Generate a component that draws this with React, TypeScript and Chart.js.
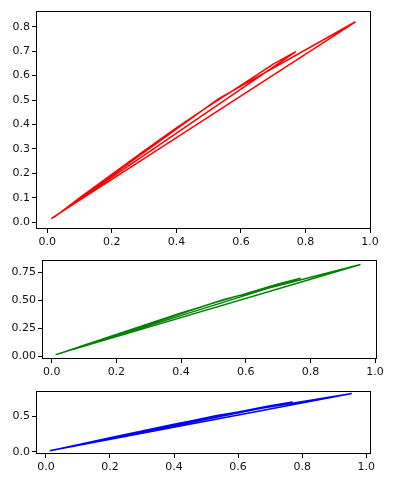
import React, { useEffect, useRef } from "react";
import { Chart, registerables } from "chart.js";

Chart.register(...registerables);

// Same series shown in each panel (sequence of points, not sorted)
const xValues = [0.012, 0.955, 0.53, 0.02, 0.1, 0.2, 0.3, 0.4, 0.5, 0.6, 0.7, 0.77, 0.015];
const yValues = [0.015, 0.82, 0.505, 0.02, 0.1, 0.196, 0.292, 0.386, 0.475, 0.56, 0.647, 0.698, 0.017];

const xTicks = [0.0, 0.2, 0.4, 0.6, 0.8, 1.0];
const redYTicks = [0.0, 0.1, 0.2, 0.3, 0.4, 0.5, 0.6, 0.7, 0.8];
const greenYTicks = [0.0, 0.25, 0.5, 0.75];
const blueYTicks = [0.0, 0.5];

const framePlugin = {
  id: "frame",
  afterDraw(chart: any) {
    const { ctx, chartArea } = chart;
    ctx.save();
    ctx.strokeStyle = "#000";
    ctx.lineWidth = 1;
    ctx.strokeRect(
      Math.round(chartArea.left) + 0.5,
      Math.round(chartArea.top) + 0.5,
      Math.round(chartArea.right - chartArea.left) - 1,
      Math.round(chartArea.bottom - chartArea.top) - 1
    );
    ctx.restore();
  },
};

type PanelProps = {
  top: number;
  height: number;
  color: string;
  yTicks: number[];
  yDecimals: number;
  xMin: number;
  xMax: number;
  yMin: number;
  yMax: number;
  yAxisWidth: number;
  padTop: number;
  padRight: number;
  padBottom: number;
  xAxisHeight: number;
};

function Panel(p: PanelProps) {
  const ref = useRef<HTMLCanvasElement | null>(null);
  useEffect(() => {
    if (!ref.current) return;
    const font = { family: "DejaVu Sans", size: 11 };
    const chart = new Chart(ref.current, {
      type: "scatter",
      data: {
        datasets: [
          {
            data: xValues.map((x, i) => ({ x, y: yValues[i] })),
            showLine: true,
            borderColor: p.color,
            backgroundColor: p.color,
            borderWidth: 1.5,
            pointRadius: 0,
            tension: 0,
          },
        ],
      },
      options: {
        responsive: false,
        animation: false,
        devicePixelRatio: 1,
        layout: { padding: { top: p.padTop, right: p.padRight, bottom: p.padBottom, left: 0 } },
        plugins: { legend: { display: false }, tooltip: { enabled: false } },
        scales: {
          x: {
            type: "linear",
            min: p.xMin,
            max: p.xMax,
            border: { display: false },
            grid: { drawOnChartArea: false, drawTicks: true, tickLength: 4, color: "#000" },
            ticks: {
              color: "#111",
              font,
              padding: 3,
              maxRotation: 0,
              autoSkip: false,
              callback: (v: any) => Number(v).toFixed(1),
            },
            afterBuildTicks: (s: any) => {
              s.ticks = xTicks.map((v) => ({ value: v }));
            },
            afterFit: (s: any) => {
              s.height = p.xAxisHeight;
            },
          },
          y: {
            type: "linear",
            min: p.yMin,
            max: p.yMax,
            border: { display: false },
            grid: { drawOnChartArea: false, drawTicks: true, tickLength: 4, color: "#000" },
            ticks: {
              color: "#111",
              font,
              padding: 2,
              autoSkip: false,
              callback: (v: any) => Number(v).toFixed(p.yDecimals),
            },
            afterBuildTicks: (s: any) => {
              s.ticks = p.yTicks.map((v) => ({ value: v }));
            },
            afterFit: (s: any) => {
              s.width = p.yAxisWidth;
            },
          },
        },
      },
      plugins: [framePlugin],
    });
    return () => chart.destroy();
  }, []);
  return (
    <canvas
      ref={ref}
      width={393}
      height={p.height}
      style={{ position: "absolute", left: 0, top: p.top, width: 393, height: p.height, display: "block" }}
    />
  );
}

export default function App() {
  return (
    <div style={{ position: "absolute", left: 0, top: 0, width: 393, height: 477, background: "#fff" }}>
      <Panel
        top={0}
        height={250}
        color="#ff0000"
        yTicks={redYTicks}
        yDecimals={1}
        xMin={-0.035}
        xMax={1.003}
        yMin={-0.027}
        yMax={0.864}
        yAxisWidth={36}
        padTop={11}
        padRight={22}
        padBottom={0}
        xAxisHeight={21}
      />
      <Panel
        top={250}
        height={130}
        color="#008000"
        yTicks={greenYTicks}
        yDecimals={2}
        xMin={-0.03}
        xMax={1.006}
        yMin={-0.024}
        yMax={0.86}
        yAxisWidth={42}
        padTop={10}
        padRight={16}
        padBottom={0}
        xAxisHeight={21}
      />
      <Panel
        top={380}
        height={97}
        color="#0000ff"
        yTicks={blueYTicks}
        yDecimals={1}
        xMin={-0.031}
        xMax={1.015}
        yMin={-0.032}
        yMax={0.854}
        yAxisWidth={36}
        padTop={11}
        padRight={22}
        padBottom={2}
        xAxisHeight={21}
      />
    </div>
  );
}
